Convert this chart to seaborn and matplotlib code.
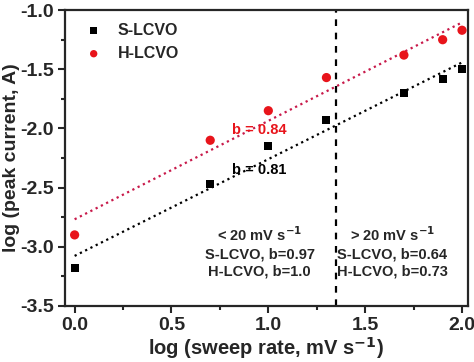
import numpy as np
import pandas as pd
import seaborn as sns
import matplotlib.pyplot as plt

# log sweep rate (1, 5, 10, 20, 50, 80, 100 mV/s)
log_rate = [0.0, 0.70, 1.0, 1.30, 1.70, 1.90, 2.0]
s_lcvo = [-3.18, -2.47, -2.15, -1.93, -1.70, -1.58, -1.50]
h_lcvo = [-2.90, -2.10, -1.85, -1.57, -1.38, -1.25, -1.17]
split_x = 1.35

df = pd.DataFrame({
    'x': log_rate * 2,
    'y': s_lcvo + h_lcvo,
    'sample': ['S-LCVO'] * len(log_rate) + ['H-LCVO'] * len(log_rate),
})

sns.set_style('ticks')
plt.rcParams['font.family'] = ['Liberation Sans', 'DejaVu Sans']
plt.rcParams['font.weight'] = 'bold'

fig, ax = plt.subplots(figsize=(4.74, 3.62), dpi=100)
fig.subplots_adjust(left=0.137, right=0.987, bottom=0.155, top=0.972)

red = '#e8141b'
sns.regplot(data=df[df['sample'] == 'S-LCVO'], x='x', y='y', ax=ax, ci=None,
            scatter=False, line_kws=dict(color='black', ls=':', lw=1.6))
sns.regplot(data=df[df['sample'] == 'H-LCVO'], x='x', y='y', ax=ax, ci=None,
            scatter=False, line_kws=dict(color='#c8194a', ls=':', lw=1.6))
sns.scatterplot(data=df[df['sample'] == 'S-LCVO'], x='x', y='y', marker='s',
                color='black', s=34, edgecolor='none', ax=ax, zorder=3, label='S-LCVO')
sns.scatterplot(data=df[df['sample'] == 'H-LCVO'], x='x', y='y', marker='o',
                color=red, s=44, edgecolor='none', ax=ax, zorder=3, label='H-LCVO')

ax.axvline(split_x, color='black', ls=(0, (3, 3)), lw=1.6)

ax.set_xlim(-0.05, 2.03)
ax.set_ylim(-3.5, -1.0)
ax.set_xticks([0, 0.5, 1.0, 1.5, 2.0])
ax.set_xticks([0.25, 0.75, 1.25, 1.75], minor=True)
ax.set_yticks(np.arange(-3.5, -0.99, 0.5))
ax.set_yticks(np.arange(-3.25, -1.0, 0.5), minor=True)
ax.xaxis.set_major_formatter(plt.FormatStrFormatter('%.1f'))
ax.yaxis.set_major_formatter(plt.FormatStrFormatter('%.1f'))
ax.tick_params(which='major', length=5, width=1.5, labelsize=14, pad=3)
ax.tick_params(which='minor', length=3, width=1.5)
for sp in ax.spines.values():
    sp.set_linewidth(1.6)
    sp.set_visible(True)

ax.set_xlabel('log (sweep rate, mV s$^{\\mathbf{-1}}$)', fontsize=14.5, fontweight='bold', labelpad=1)
ax.set_ylabel('log (peak current, A)', fontsize=14, fontweight='bold', labelpad=0)

leg = ax.legend(loc='upper left', frameon=False, fontsize=11.5, handletextpad=0.5,
                borderaxespad=0.4, markerscale=0.8)

ax.text(0.81, -2.01, 'b = 0.84', color=red, fontsize=10.5, fontweight='bold', va='center')
ax.text(0.81, -2.35, 'b = 0.81', color='black', fontsize=10.5, fontweight='bold', va='center')

ax.text(0.955, -2.82, '< 20 mV s$^{\\mathbf{-1}}$\nS-LCVO, b=0.97\nH-LCVO, b=1.0',
        ha='center', va='top', fontsize=10.5, fontweight='bold', linespacing=1.3)
ax.text(1.64, -2.82, '> 20 mV s$^{\\mathbf{-1}}$\nS-LCVO, b=0.64\nH-LCVO, b=0.73',
        ha='center', va='top', fontsize=10.5, fontweight='bold', linespacing=1.3)

fig.savefig('out.png', dpi=100)
